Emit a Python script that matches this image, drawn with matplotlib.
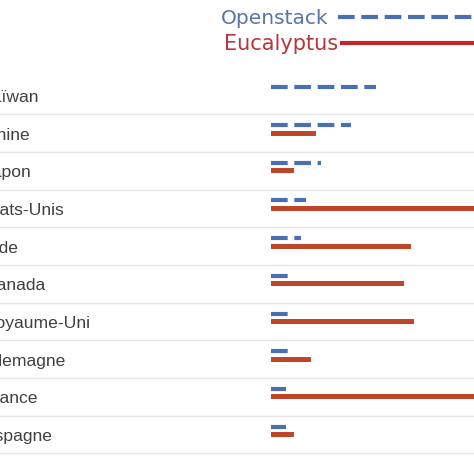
import matplotlib.pyplot as plt
from matplotlib.lines import Line2D
import numpy as np

# google-trends style comparison, cropped on the left and right
countries = ['Taïwan', 'Chine', 'Japon', 'États-Unis', 'Inde', 'Canada',
             'Royaume-Uni', 'Allemagne', 'France', 'Espagne']
openstack = [42, 32, 20, 14, 12, 8, 7, 7, 6, 6]
eucalyptus = [0, 18, 9, 95, 56, 53, 57, 16, 100, 9]

blue = '#4a6fb5'
red = '#c0462a'

W = 474
fig = plt.figure(figsize=(4.74, 4.74), dpi=100)
ax = fig.add_axes([0, 0, 1, 1])

# pixel layout -> data limits
x0_px, px_per_unit = 271, 2.5
row0_px, row_px = 95.3, 37.7
ax.set_xlim(-x0_px / px_per_unit, (W - x0_px) / px_per_unit)
ax.set_ylim((W - row0_px) / row_px, -row0_px / row_px)
ax.axis('off')

rows = np.arange(len(countries))

# row separators
for r in rows:
    ax.axhline(r + 0.5, color='#e6e6e6', lw=1, zorder=0)

ax.barh(rows, eucalyptus, height=5 / row_px, color=red, zorder=2)
ax.hlines(rows - 8 / row_px, 0, openstack, colors=blue, lw=3,
          linestyles=(0, (4, 1.6)), zorder=3)

# labels start left of the picture edge, as in the cropped original
for r, name in zip(rows, countries):
    ax.text((-16 - x0_px) / px_per_unit, r + 2 / row_px, name, ha='left',
            va='center', fontsize=12.6, family='Liberation Sans',
            color='#404040', clip_on=False)

# legend drawn by hand at the top
fig.text(328 / W, 1 - 18 / W, 'Openstack', ha='right', va='center',
         fontsize=14.5, color='#5874a8')
fig.text(338 / W, 1 - 44 / W, 'Eucalyptus', ha='right', va='center',
         fontsize=15, color='#b8353a')
fig.add_artist(Line2D([338 / W, 1], [1 - 17 / W] * 2, color=blue, lw=3,
                      linestyle=(0, (4, 1.6)), transform=fig.transFigure))
fig.add_artist(Line2D([342 / W, 1], [1 - 43 / W] * 2, color='#c0282a', lw=3,
                      transform=fig.transFigure))

fig.savefig('out.png', dpi=100)
